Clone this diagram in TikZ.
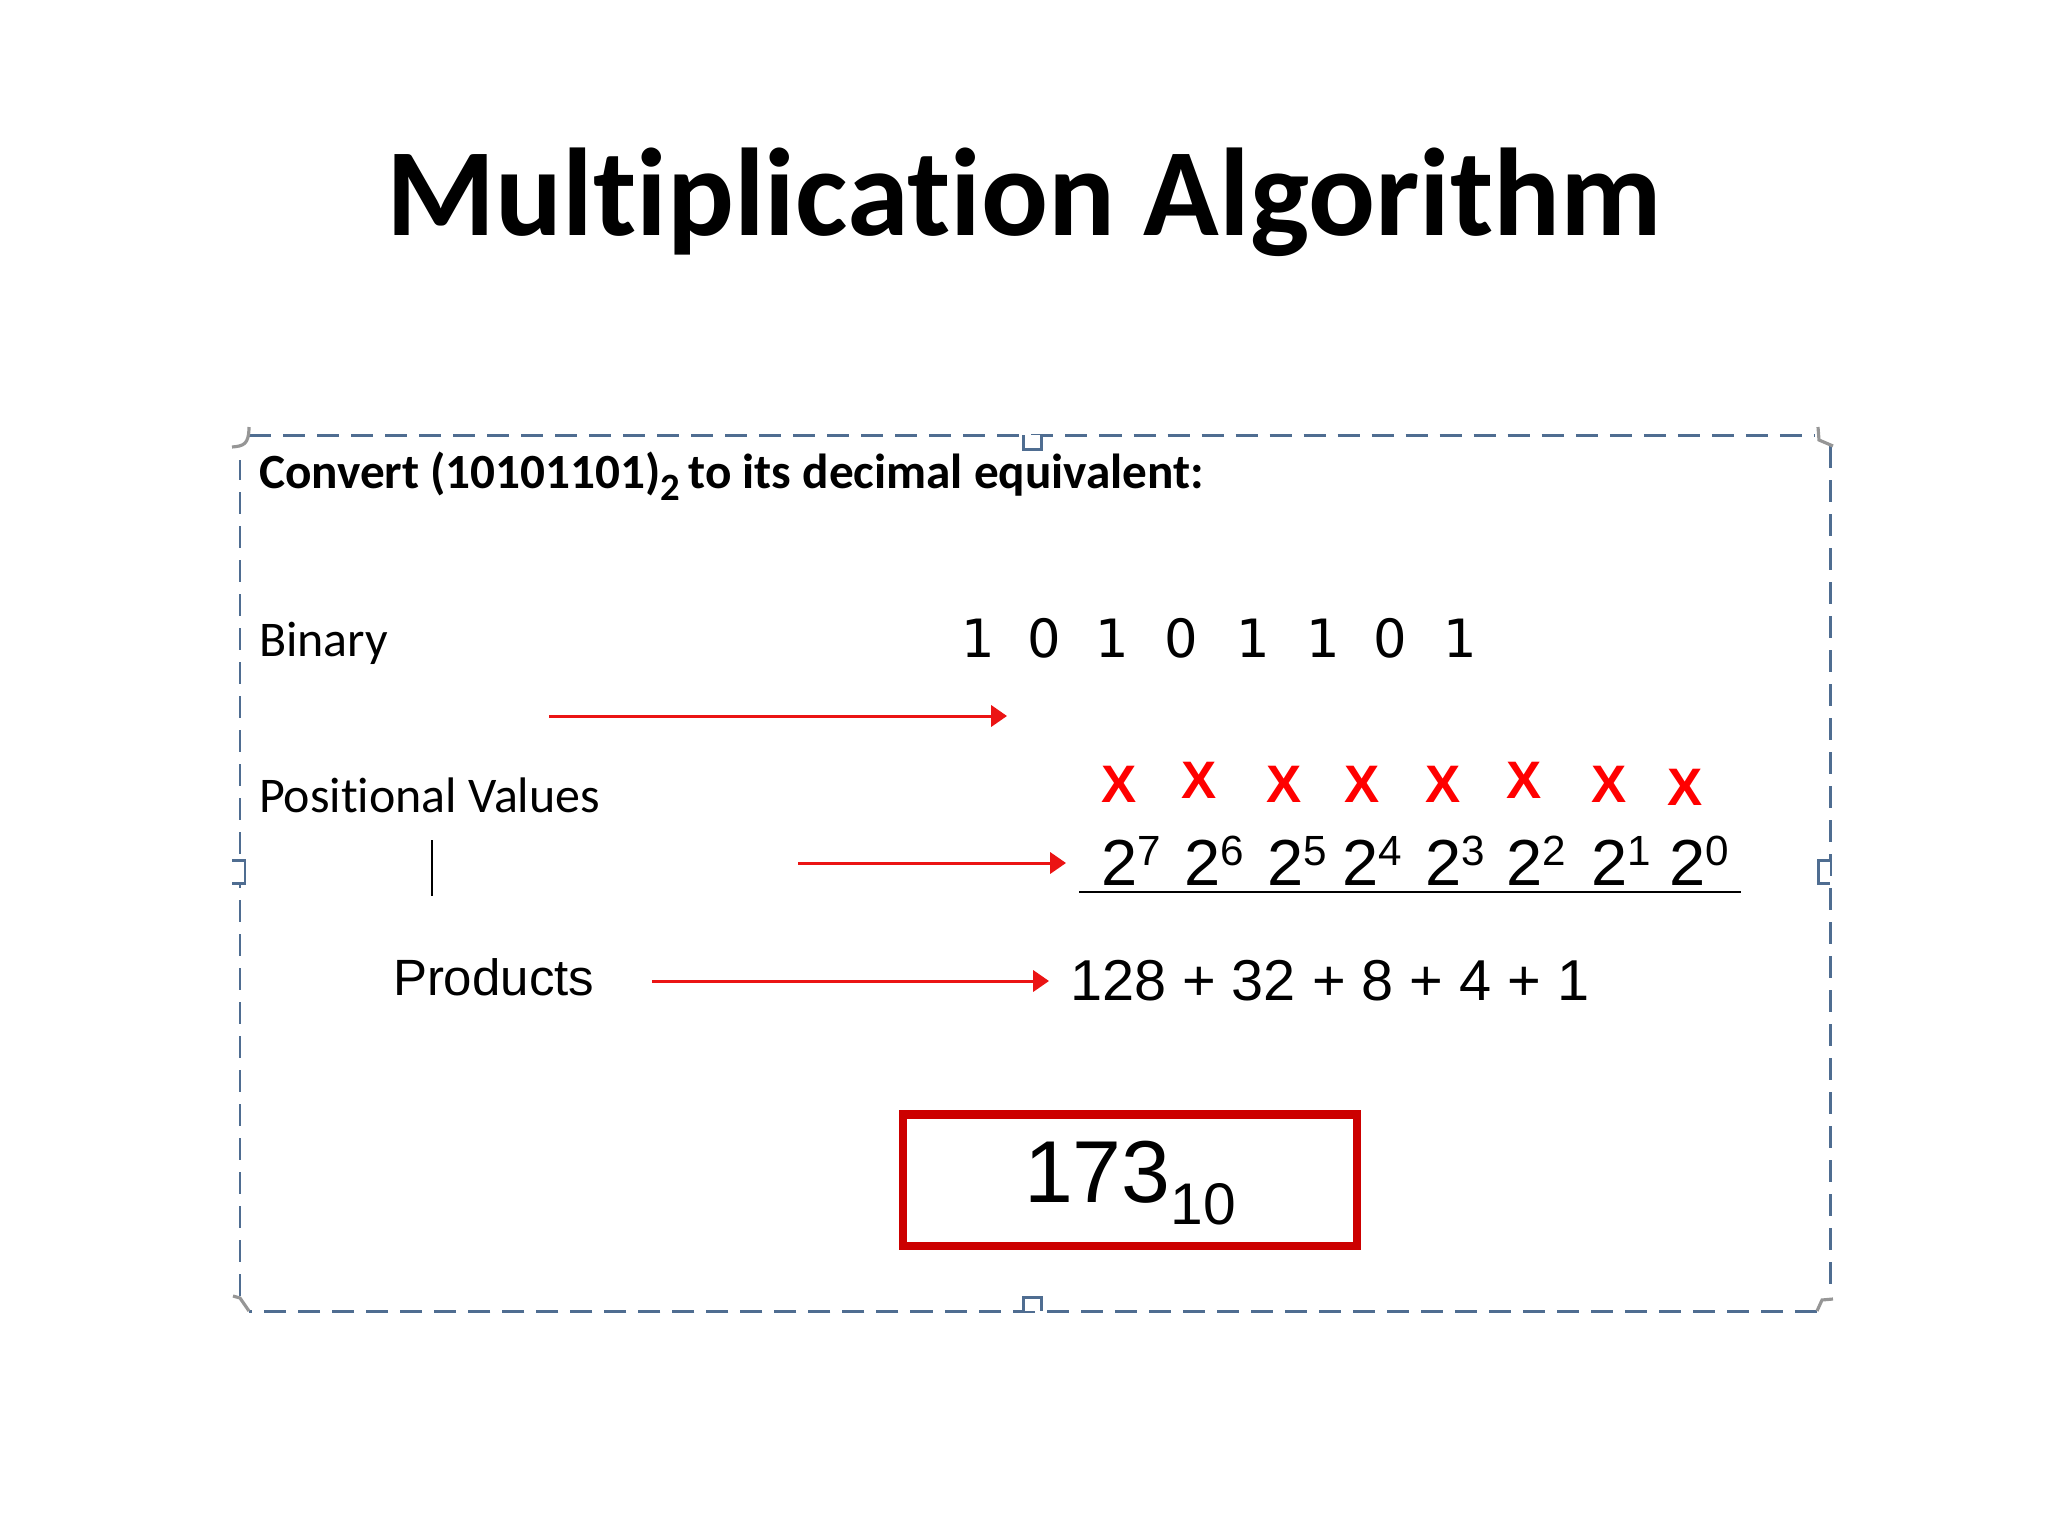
\documentclass[tikz,border=0pt]{standalone}
\usepackage{fontspec}
\setmainfont{Carlito}[Ligatures=NoCommon]
\newfontfamily\arialfont{Liberation Sans}
\newfontfamily\digitfont{DejaVu Sans}
\usepackage{tikz}
\usetikzlibrary{positioning,arrows.meta}

\definecolor{boxblue}{RGB}{79,109,145}
\definecolor{handlegrey}{RGB}{150,150,150}
\definecolor{arrowred}{RGB}{235,20,20}
\definecolor{xred}{RGB}{255,0,0}
\definecolor{resred}{RGB}{204,0,0}

\begin{document}
\begin{tikzpicture}[x=0.01cm, y=-0.01cm,
  every node/.style={inner sep=0pt, outer sep=0pt},
  frame/.style={draw=boxblue, line width=0.85pt, dash pattern=on 0.22cm off 0.12cm},
  handle/.style={draw=boxblue, line width=0.85pt},
  corner/.style={draw=handlegrey, line width=0.9pt},
  redarrow/.style={draw=arrowred, line width=0.85pt, -{Triangle[length=4.5pt,width=6pt]}},
  label/.style={anchor=base west, font=\fontsize{14.2}{16}\selectfont},
  bit/.style={anchor=base, font=\digitfont\fontsize{15}{17}\selectfont},
  cross/.style={anchor=base, text=xred, font=\arialfont\bfseries\fontsize{15}{17}\selectfont},
  power/.style={anchor=base, font=\arialfont\fontsize{18.5}{20}\selectfont},
  resbox/.style={draw=resred, line width=2.3pt, minimum width=4.54cm, minimum height=1.31cm},
]
  \useasboundingbox (0,0) rectangle (2048,1536);

  % title
  \node[anchor=base, font=\bfseries\fontsize{35.5}{40}\selectfont] (title) at (1024,235) {Multiplication Algorithm};

  % dashed frame with its handles
  \draw[frame] (249,435) -- (1815,435);
  \draw[frame] (1830,446) -- (1830,1292);
  \draw[frame] (1817,1311) -- (249,1311);
  \draw[frame] (240,1296) -- (240,460);
  \draw[corner] (249,427) .. controls (249,445) and (243,446) .. (232,447);
  \draw[corner] (1818,427) -- (1819,440) -- (1833,446);
  \draw[corner] (1817,1311) -- (1822,1300) -- (1833,1299);
  \draw[corner] (233,1296) -- (240,1298) -- (249,1311);
  \draw[handle, fill=white] (1023,435) -- (1023,449) -- (1041,449) -- (1041,435);
  \draw[handle, fill=white] (1023,1311) -- (1023,1297) -- (1041,1297) -- (1041,1311);
  \draw[handle, fill=white] (232,860) -- (245,860) -- (245,883) -- (232,883);
  \draw[handle, fill=white] (1830,860) -- (1818,860) -- (1818,883) -- (1830,883);

  % task
  \node[anchor=base west, font=\bfseries\fontsize{14}{16}\selectfont] (task) at (259,488)
    {Convert (10101101)\raisebox{-0.12cm}{\fontsize{11}{11}\selectfont 2}\kern0.08cm to its decimal equivalent:};

  % row labels
  \node[label] (binary) at (259,656) {Binary};
  \node[label] (posval) at (259,812) {Positional Values};
  \node[anchor=base west, font=\arialfont\fontsize{14.5}{16}\selectfont] (products) at (393,995) {Products};

  % binary digits
  \foreach \d/\x [count=\i] in {1/978,0/1044,1/1112,0/1181,1/1253,1/1323,0/1390,1/1460}
    \node[bit] (bit\i) at (\x,657) {\d};

  % multiplication marks
  \foreach \x/\y [count=\i] in {1119/802,1199/798,1284/802,1362/802,1443/802,1524/798,1609/802,1685/805}
    \node[cross] (x\i) at (\x,\y) {X};

  % positional values
  \foreach \x/\e [count=\i] in {1119/7,1202/6,1285/5,1360/4,1443/3,1524/2,1609/1,1687/0}
    \node[power] (pw\i) at (\x+12,885) {2\raisebox{0.2cm}{\fontsize{12}{12}\selectfont\e}};
  \coordinate (ul1) at (1079,892);
  \coordinate (ul2) at (1741,892);
  \draw[line width=0.7pt] (ul1) -- (ul2);

  % sum
  \node[anchor=base west, font=\arialfont\fontsize{16.4}{19}\selectfont] (sum) at (1070,1000) {128 + 32 + 8 + 4 + 1};

  % arrows
  \coordinate (a1s) at (549,716);
  \coordinate (a1e) at (1007,716);
  \coordinate (a2s) at (798,863);
  \coordinate (a2e) at (1066,863);
  \coordinate (a3s) at (652,981);
  \coordinate (a3e) at (1049,981);
  \draw[redarrow] (a1s) -- (a1e);
  \draw[redarrow] (a2s) -- (a2e);
  \draw[redarrow] (a3s) -- (a3e);

  % small bar under the label
  \coordinate (bar1) at (432,840);
  \coordinate (bar2) at (432,896);
  \draw[line width=0.6pt] (bar1) -- (bar2);

  % result
  \node[resbox] (res) at (1130,1180) {};
  \node[anchor=base, font=\arialfont\fontsize{25}{27}\selectfont] (val) at (1130,1202)
    {173\raisebox{-0.22cm}{\fontsize{16.7}{18}\selectfont 10}};
\end{tikzpicture}
\end{document}
